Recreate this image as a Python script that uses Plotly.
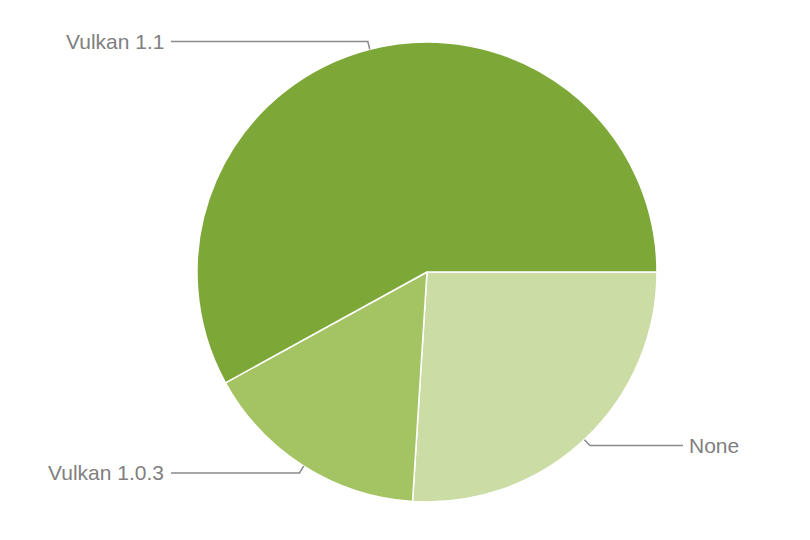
import math
import plotly.graph_objects as go

# slice data, in drawing order (clockwise from 3 o'clock)
labels = ["None", "Vulkan 1.0.3", "Vulkan 1.1"]
shares = [26.0, 16.0, 58.0]
colors = ["#cbdca4", "#a4c464", "#7da838"]

W, H = 810, 540
OFF = 8  # page body margin
cx, cy, r = 427, 272, 230
start = 90  # degrees clockwise from 12 o'clock


def px(x):
    return (x - OFF) / W


def py(y):
    return 1 - (y - OFF) / H


fig = go.Figure()
fig.add_trace(go.Pie(
    labels=labels, values=shares, sort=False, direction="clockwise",
    rotation=start, textinfo="none", hoverinfo="label+percent",
    marker=dict(colors=colors, line=dict(color="white", width=1.5)),
    domain=dict(x=[px(cx - r), px(cx + r)], y=[py(cy + r), py(cy - r)]),
    showlegend=False,
))

# leader lines and outside labels, placed at each slice's mid angle
total = sum(shares)
acc = 0
shapes, annotations = [], []
for lab, v in zip(labels, shares):
    mid = math.radians(start + (acc + v / 2) / total * 360)
    acc += v
    sx, sy = math.sin(mid), -math.cos(mid)
    p = (cx + r * sx, cy + r * sy)
    q = (cx + (r + 8) * sx, cy + (r + 8) * sy)
    right = sx > 0
    end_x = 683 if right else 171
    path = f"M {px(p[0])},{py(p[1])} L {px(q[0])},{py(q[1])} L {px(end_x)},{py(q[1])}"
    shapes.append(dict(type="path", path=path, xref="paper", yref="paper",
                       line=dict(color="#8a8a8a", width=1.5)))
    annotations.append(dict(
        text=lab, x=px(end_x + (4 if right else -5)), y=py(q[1]),
        xref="paper", yref="paper", showarrow=False,
        xanchor="left" if right else "right", yanchor="middle",
        font=dict(family="Arial, Liberation Sans, sans-serif", size=21, color="#808080"),
    ))

fig.update_layout(
    width=W, height=H, margin=dict(l=0, r=0, t=0, b=0),
    paper_bgcolor="white", plot_bgcolor="white",
    shapes=shapes, annotations=annotations,
)

fig.write_html("out.html")
